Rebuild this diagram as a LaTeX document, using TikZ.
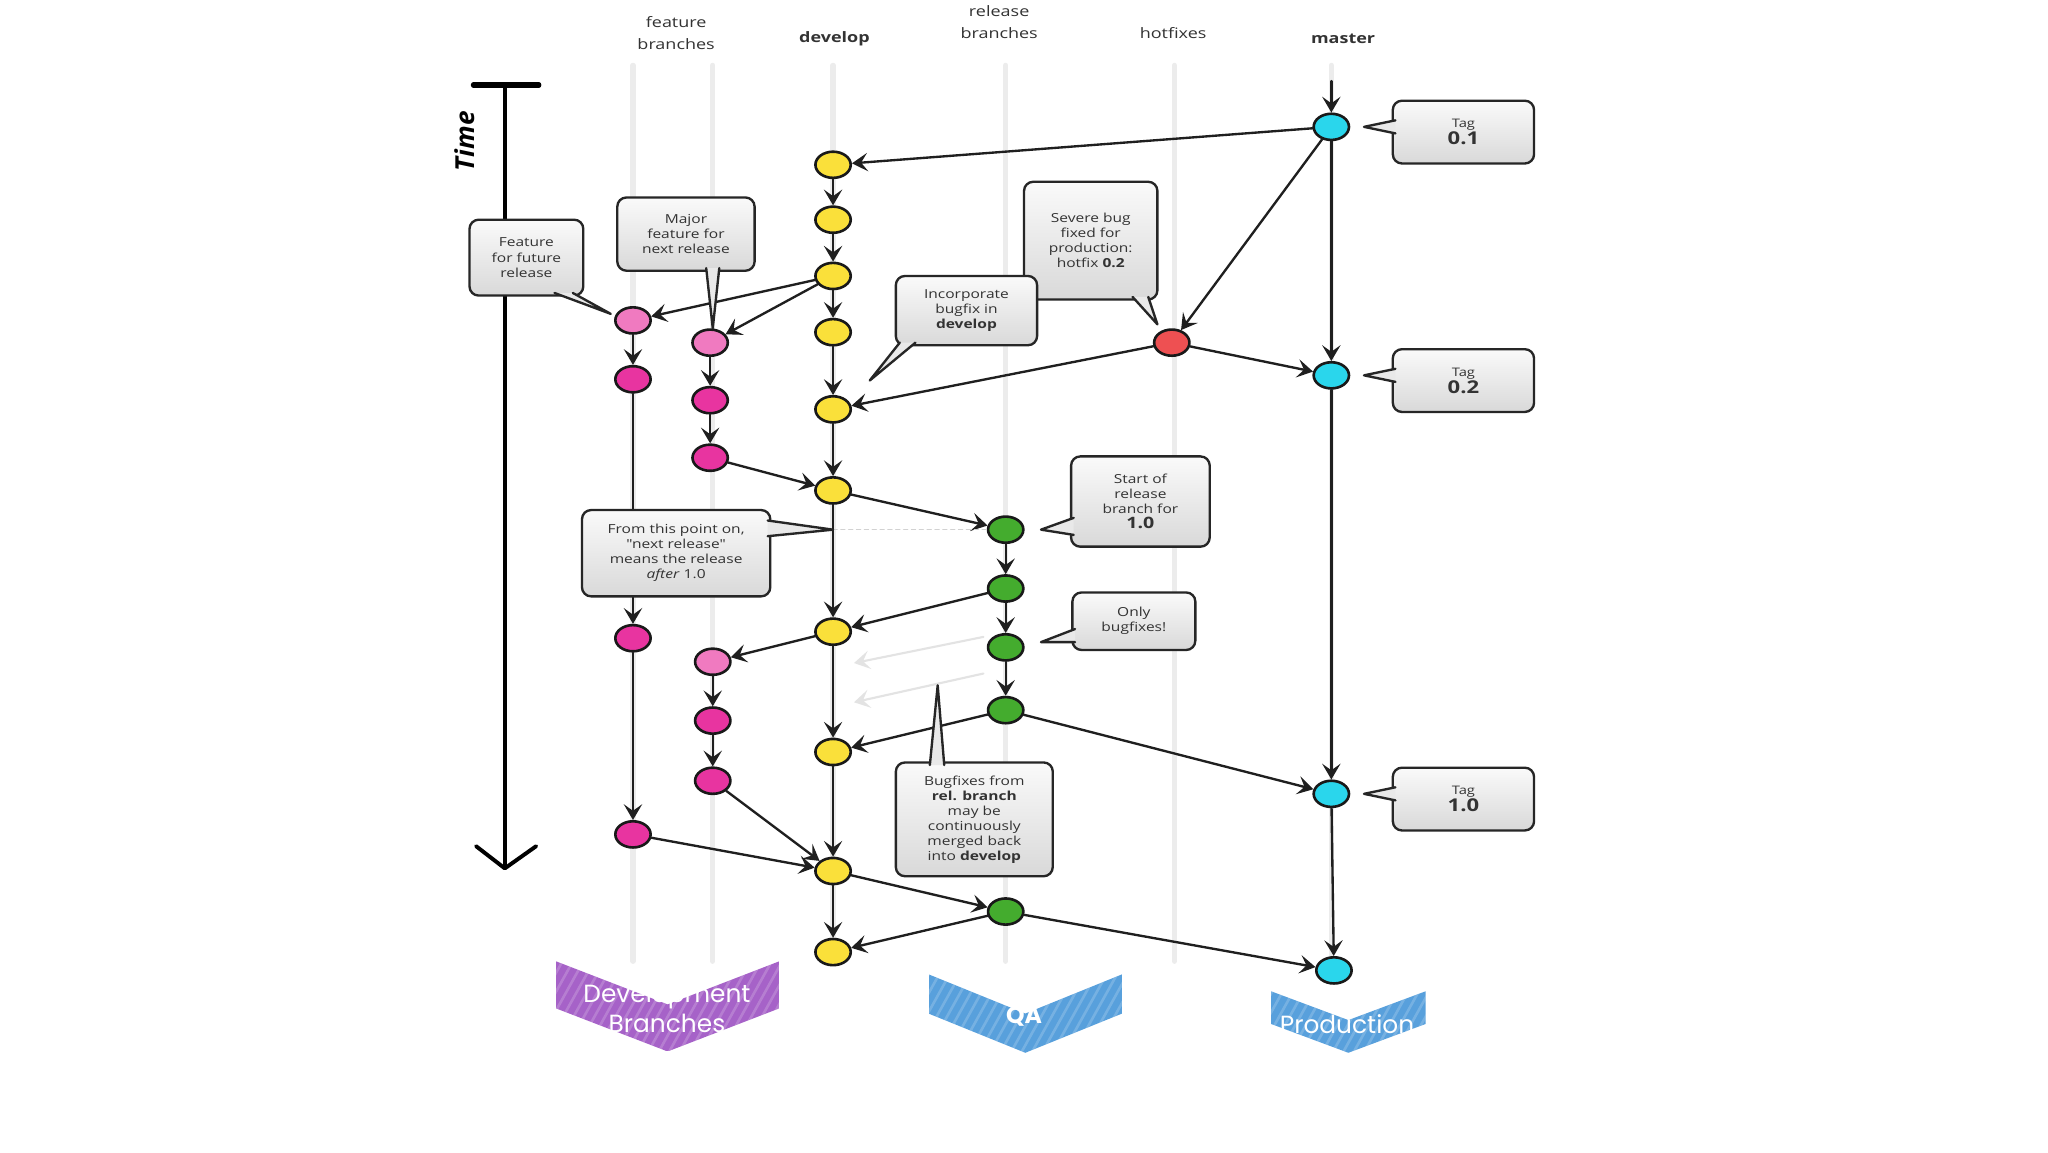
\documentclass[tikz,border=0pt]{standalone}
\usepackage{fontspec}
\newfontfamily\labelfont[FakeStretch=1.25]{Open Sans}
\newfontfamily\timefont{Open Sans}
\newfontfamily\bannerfont{Poppins}
\usetikzlibrary{arrows.meta,shapes.geometric}
\definecolor{devyellow}{RGB}{250,224,58}
\definecolor{featpink}{RGB}{232,52,160}
\definecolor{featlight}{RGB}{240,122,192}
\definecolor{relgreen}{RGB}{68,172,46}
\definecolor{fixred}{RGB}{238,80,82}
\definecolor{mastcyan}{RGB}{42,214,236}
\definecolor{devpurple}{RGB}{166,98,200}
\definecolor{qablue}{RGB}{88,160,220}
\tikzset{
 commit/.style={ellipse, draw=black!90, line width=2pt, minimum width=27pt, minimum height=20pt, inner sep=0pt},
 ycommit/.style={commit, fill=devyellow},
 pcommit/.style={commit, fill=featpink},
 lcommit/.style={commit, fill=featlight},
 gcommit/.style={commit, fill=relgreen},
 rcommit/.style={commit, fill=fixred},
 ccommit/.style={commit, fill=mastcyan},
 arr/.style={->, line width=1.8pt, black!88},
 faint/.style={->, line width=1.6pt, gray!22},
 lane/.style={line width=4pt, gray!15},
 head/.style={font=\labelfont\fontsize{11}{17}\selectfont, align=center, text=black!80},
 callout/.style={draw=black!85, line width=1.8pt, rounded corners=7pt, top color=gray!4, bottom color=gray!30, align=center, font=\labelfont\fontsize{9.5}{11.5}\selectfont, text=black!80, inner sep=2pt},
 ptr/.style={fill=gray!17, draw=black!85, line width=1.8pt},
 banner/.style={text=white, font=\bannerfont\fontsize{19}{23}\selectfont, align=center}
}
\begin{document}
\begin{tikzpicture}[x=1pt, y=-1pt, line join=round, line cap=round, >={Stealth[length=12pt,width=14pt,inset=5pt]}]
 \fill[white] (0,0) rectangle (1566,881);
 \foreach \x in {484,545,637,769,898,1018}
 \draw[lane] (\x,50)--(\x,735);
 \node[head] (hfeat) at (517,25) {feature\\branches};
 \node[head, font=\labelfont\bfseries\fontsize{11}{17}\selectfont] (hdev) at (638,30) {develop};
 \node[head] (hrel) at (764,17) {release\\branches};
 \node[head] (hfix) at (897,25) {hotfixes};
 \node[head, font=\labelfont\bfseries\fontsize{11}{17}\selectfont] (hmast) at (1027,30) {master};
 \draw[line width=2.8pt] (386,65)--(386,662);
 \draw[line width=4pt] (362,65)--(412,65);
 \draw[line width=3pt] (364,647)--(386,664)--(410,647);
 \node[rotate=90, font=\timefont\bfseries\itshape\fontsize{20}{20}\selectfont] (timelbl) at (355,108) {Time};
 \node[ccommit] (m1) at (1018,97) {};
 \node[ccommit] (m2) at (1018,287) {};
 \node[ccommit] (m3) at (1018,607) {};
 \node[ccommit] (m4) at (1020,742) {};
 \node[rcommit] (h1) at (896,262) {};
 \foreach \n/\y in {1/126,2/168,3/211,4/254,5/313,6/375,7/483,8/575,9/666,10/728}
 \node[ycommit] (d\n) at (637,\y) {};
 \node[lcommit] (fa1) at (484,245) {};
 \node[pcommit] (fa2) at (484,290) {};
 \node[pcommit] (fa3) at (484,488) {};
 \node[pcommit] (fa4) at (484,638) {};
 \node[lcommit] (fb1) at (543,262) {};
 \node[pcommit] (fb2) at (543,306) {};
 \node[pcommit] (fb3) at (543,350) {};
 \node[lcommit] (fb4) at (545,506) {};
 \node[pcommit] (fb5) at (545,551) {};
 \node[pcommit] (fb6) at (545,597) {};
 \foreach \n/\y in {1/405,2/450,3/495,4/543,5/697}
 \node[gcommit] (r\n) at (769,\y) {};
 \coordinate (mtop) at (1018,62);
 \coordinate (dsplit) at (637,405);
 \coordinate (gs1) at (752,487); \coordinate (ge1) at (653,507);
 \coordinate (gs2) at (752,515); \coordinate (ge2) at (653,537);
 \draw[arr] (mtop)--(m1);
 \foreach \a/\b in {d1/d2,d2/d3,d3/d4,d4/d5,d5/d6,d6/d7,d7/d8,d8/d9,d9/d10,m1/m2,m2/m3,m3/m4,
 fa1/fa2,fa2/fa3,fa3/fa4,fb1/fb2,fb2/fb3,fb4/fb5,fb5/fb6,r1/r2,r2/r3,r3/r4,
 m1/d1,m1/h1,h1/m2,h1/d5,d3/fa1,d3/fb1,fb3/d6,d6/r1,r2/d7,d7/fb4,r4/d8,r4/m3,fb6/d9,fa4/d9,d9/r5,r5/d10,r5/m4}
 \draw[arr] (\a)--(\b);
 \draw[faint] (gs1)--(ge1);
 \draw[faint] (gs2)--(ge2);
 \draw[gray!35, dashed, line width=1.2pt] (dsplit)--(r1);
 \node[callout, minimum width=108pt, minimum height=48pt] (tag01) at (1119,101) {{\fontsize{9}{11}\selectfont Tag}\\{\fontsize{13.5}{14}\selectfont\bfseries 0.1}};
 \draw[ptr] (1067,92)--(1043,97)--(1067,102);
 \node[callout, minimum width=108pt, minimum height=48pt] (tag02) at (1119,291) {{\fontsize{9}{11}\selectfont Tag}\\{\fontsize{13.5}{14}\selectfont\bfseries 0.2}};
 \draw[ptr] (1067,282)--(1043,287)--(1067,292);
 \node[callout, minimum width=108pt, minimum height=48pt] (tag10) at (1119,611) {{\fontsize{9}{11}\selectfont Tag}\\{\fontsize{13.5}{14}\selectfont\bfseries 1.0}};
 \draw[ptr] (1067,602)--(1043,607)--(1067,612);
 \node[callout, minimum width=87pt, minimum height=58pt] (future) at (402.5,197) {Feature\\for future\\release};
 \draw[ptr] (424,224)--(467,240)--(438,224);
 \node[callout, minimum width=105pt, minimum height=56pt] (major) at (524.5,179) {Major\\feature for\\next release};
 \draw[ptr] (540,205)--(545,251)--(550,205);
 \node[callout, minimum width=102pt, minimum height=90pt] (severe) at (834,184) {Severe bug\\fixed for\\production:\\hotfix \textbf{0.2}};
 \draw[ptr] (866,227)--(885,248)--(878,227);
 \node[callout, minimum width=108pt, minimum height=53pt] (incorp) at (739,237.5) {Incorporate\\bugfix in\\\textbf{develop}};
 \draw[ptr] (688,262)--(665,291)--(700,262);
 \node[callout, minimum width=106pt, minimum height=69pt] (start) at (872,383.5) {Start of\\release\\branch for\\{\fontsize{12}{13}\selectfont\bfseries 1.0}};
 \draw[ptr] (821,396)--(796,405)--(821,409);
 \node[callout, minimum width=144pt, minimum height=66pt] (point) at (517,423) {From this point on,\\"next release"\\means the release\\\textit{after} 1.0};
 \draw[ptr] (587,398)--(dsplit)--(587,410);
 \node[callout, minimum width=94pt, minimum height=44pt] (only) at (867,475) {Only\\bugfixes!};
 \draw[ptr] (822,481)--(796,491)--(822,491);
 \node[callout, minimum width=120pt, minimum height=87pt] (merge) at (745,626.5) {Bugfixes from\\\textbf{rel. branch}\\may be\\continuously\\merged back\\into \textbf{develop}};
 \draw[ptr] (711,585)--(717,524)--(722,585);
 \foreach \xa/\xb/\yt/\h/\d/\col in {425/596/735/36/33/devpurple,710/858/745/30/30/qablue,972/1090/758/25/22/qablue}{
 \pgfmathsetmacro\xm{(\xa+\xb)/2}
 \begin{scope}
 \clip (\xa,\yt)--(\xm,\yt+\d)--(\xb,\yt)--(\xb,\yt+\h)--(\xm,\yt+\h+\d)--(\xa,\yt+\h)--cycle;
 \fill[fill=\col] (\xa,\yt) rectangle (\xb,\yt+\h+\d);
 \foreach \s in {-60,-52,...,180}
 \draw[white, opacity=0.18, line width=2pt] (\xa+\s,\yt+\h+\d+5)--++(50,-90);
 \end{scope}
 }
 \node[banner] (bdev) at (510,771) {Development\\Branches};
 \node[banner, font=\bannerfont\bfseries\fontsize{18}{22}\selectfont] (bqa) at (783,777) {QA};
 \node[banner] (bprod) at (1030,783) {Production};
\end{tikzpicture}
\end{document}
